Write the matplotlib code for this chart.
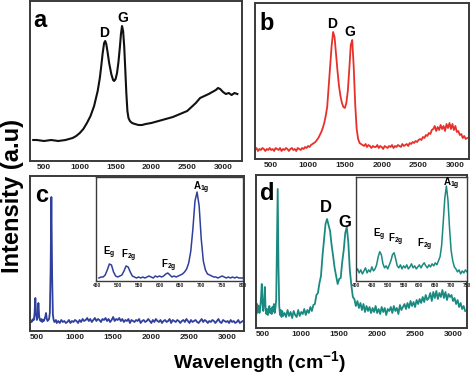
import numpy as np
import matplotlib
matplotlib.use("Agg")
import matplotlib.pyplot as plt
from matplotlib import font_manager

plt.rcParams['font.family'] = ['Liberation Sans', 'DejaVu Sans']
plt.rcParams['font.weight'] = 'bold'
plt.rcParams['mathtext.fontset'] = 'custom'
plt.rcParams['mathtext.rm'] = 'Liberation Sans:bold'
plt.rcParams['mathtext.bf'] = 'Liberation Sans:bold'
plt.rcParams['mathtext.default'] = 'bf'

# ---------------- data ----------------
xticks_main = [500, 1000, 1500, 2000, 2500, 3000]

# panel a (black)
a_x = [350, 400, 500, 600, 700, 800, 900, 950, 1000, 1050, 1100, 1150, 1200, 1250, 1280, 1300,
       1320, 1340, 1355, 1370, 1390, 1410, 1440, 1465, 1480, 1500, 1520, 1540, 1560, 1575, 1590,
       1605, 1620, 1635, 1650, 1665, 1680, 1700, 1730, 1770, 1820, 1870, 1920, 2000, 2100, 2200,
       2300, 2400, 2500, 2560, 2620, 2680, 2740, 2800, 2850, 2900, 2930, 2960, 3000, 3040, 3080,
       3120, 3160, 3200]
a_y = [21, 21, 20, 21, 20, 21, 23, 25, 28, 32, 38, 45, 55, 70, 83, 95,
       108, 118, 120, 117, 108, 98, 87, 81, 80, 82, 88, 99, 114, 127, 135,
       130, 115, 92, 68, 50, 43, 40, 38, 37, 36, 36, 37, 38, 40, 42,
       44, 47, 50, 54, 58, 63, 65, 67, 69, 71, 73, 72, 69, 67, 68,
       66, 68, 67]

# panel b (red), grid start 280, step 20
b_y = [9, 11, 8, 10, 9, 11, 10, 8, 10, 9,
       11, 9, 10, 8, 11, 10, 9, 11, 8, 10,
       9, 11, 10, 8, 10, 11, 9, 10, 8, 11,
       10, 9, 11, 10, 12, 11, 13, 12, 14, 15,
       16, 17, 19, 21, 24, 27, 31, 36, 43, 52,
       72, 92, 113, 127, 122, 105, 88, 73, 63, 56,
       52, 51, 56, 68, 90, 114, 119, 92, 55, 30,
       20, 16, 15, 14, 13, 15, 12, 14, 13, 11,
       13, 12, 12, 14, 11, 13, 12, 10, 13, 12,
       11, 13, 12, 14, 11, 13, 12, 14, 13, 12,
       15, 13, 14, 15, 13, 16, 15, 17, 16, 18,
       17, 19, 20, 19, 22, 21, 24, 23, 26, 25,
       29, 30, 33, 28, 32, 29, 34, 30, 33, 28,
       35, 31, 36, 30, 35, 29, 33, 27, 28, 24,
       25, 21, 23, 20, 21]

# panel c (blue) low-wavenumber part, start 400 step 10
c_low_y = [10, 8, 11, 9, 10, 12, 11, 18, 33, 16, 11, 14, 28, 15, 11, 10, 12, 9, 11, 10,
           12, 14, 18, 12, 10, 11, 12, 18, 60, 134, 55, 16, 11, 9, 10, 11, 8]
# panel c high part, start 780 step 20
c_high_y = [10, 8, 11, 9, 10, 8, 9, 11, 8, 10,
            9, 11, 10, 8, 11, 9, 12, 10, 11, 13,
            10, 12, 9, 11, 13, 10, 12, 11, 9, 12,
            11, 13, 10, 12, 9, 11, 14, 10, 12, 11,
            13, 10, 12, 9, 11, 10, 12, 8, 11, 10,
            9, 11, 10, 12, 8, 10, 11, 9, 10, 12,
            10, 8, 11, 9, 12, 10, 9, 11, 8, 10,
            11, 9, 10, 12, 8, 11, 10, 9, 11, 10,
            8, 10, 11, 9, 12, 10, 8, 11, 9, 10,
            11, 9, 8, 10, 12, 9, 11, 10, 8, 10,
            9, 11, 10, 8, 10, 12, 9, 8, 11, 10,
            9, 10, 8, 11, 9, 10, 8, 9, 11, 8,
            9, 10]

# inset c, start 455 step 5
ic_y = [3, 4, 4, 6, 11, 17, 16, 9, 5, 4, 5, 6, 10, 15, 14, 9, 5, 4, 3, 4,
        3, 4, 3, 4, 5, 4, 3, 5, 4, 5, 4, 5, 7, 8, 6, 4, 5, 4, 5, 6,
        7, 9, 12, 18, 30, 52, 80, 89, 75, 42, 20, 11, 7, 6, 5, 4, 4, 3, 4, 5,
        4, 3, 4, 3, 4, 3, 4, 3, 3, 3]

# panel d (teal) low part, start 400 step 10
d_low_y = [20, 14, 24, 16, 22, 15, 20, 30, 44, 24, 17, 26, 41, 20, 14, 19, 13, 18, 22, 15,
           19, 14, 21, 17, 24, 15, 20, 28, 80, 139, 62, 22, 13, 18, 11, 17, 12]
# panel d high part, start 780 step 20
d_high_y = [15, 11, 18, 12, 16, 10, 17, 13, 11, 18,
            12, 16, 14, 19, 13, 18, 15, 21, 17, 23,
            24, 33, 35, 45, 52, 72, 88, 104, 109, 103,
            97, 83, 72, 60, 52, 44, 49, 50, 66, 78,
            95, 101, 86, 58, 43, 31, 29, 22, 27, 20,
            25, 18, 24, 16, 22, 17, 21, 15, 20, 16,
            22, 15, 19, 14, 21, 16, 20, 13, 19, 17,
            21, 15, 22, 17, 20, 14, 23, 18, 21, 24,
            19, 25, 20, 27, 22, 26, 21, 28, 24, 29,
            25, 31, 26, 33, 28, 30, 35, 27, 36, 30,
            37, 29, 35, 31, 38, 30, 36, 28, 34, 31,
            33, 27, 30, 24, 28, 21, 25, 19, 22, 17]

# inset d, start 400 step 5
id_y = [9, 12, 8, 11, 7, 10, 13, 8, 11, 9, 14, 10, 12, 16, 24, 29, 26, 17, 13, 15,
        12, 16, 20, 26, 28, 22, 15, 13, 16, 12, 15, 13, 16, 12, 14, 17, 13, 15, 12, 14,
        16, 13, 16, 18, 15, 13, 16, 14, 17, 15, 18, 16, 20, 24, 35, 58, 82, 94, 80, 52,
        30, 20, 14, 12, 9, 11, 7, 10, 8, 11, 9]

inset_c_ticks = [450, 500, 550, 600, 650, 700, 750, 800]
inset_d_ticks = [400, 450, 500, 550, 600, 650, 700, 750]

# ---------------- figure ----------------
W, H = 474, 375
fig = plt.figure(figsize=(W / 100, H / 100), dpi=100)

def box(l, t, r, b):
    return [l / W, (H - b) / H, (r - l) / W, (b - t) / H]

frame_col = '#3a3a3a'

def style(ax, ticks, fs, lw=1.4):
    ax.set_xticks(ticks)
    ax.set_xticklabels([str(t) for t in ticks], fontsize=fs, fontweight='bold')
    ax.set_yticks([])
    ax.tick_params(axis='x', length=0, pad=2.5, colors='#222222')
    for s in ax.spines.values():
        s.set_color(frame_col)
        s.set_linewidth(lw)

c_black = '#111111'
c_red = '#e8302a'
c_blue = '#2f3f9c'
c_teal = '#1a8a80'

# a
axa = fig.add_axes(box(30, 1, 242, 161))
axa.plot(a_x, a_y, color=c_black, lw=1.5)
axa.set_xlim(305, 3265)
axa.set_ylim(0, 160)
style(axa, xticks_main, 6)
axa.text(0.014, 0.837, 'a', transform=axa.transAxes, fontsize=17, fontweight='bold')
axa.text(0.351, 0.775, 'D', transform=axa.transAxes, fontsize=10, fontweight='bold', ha='center')
axa.text(0.436, 0.869, 'G', transform=axa.transAxes, fontsize=10, fontweight='bold', ha='center')

# b
axb = fig.add_axes(box(255, 3, 469, 159))
bx = np.arange(len(b_y)) * 20 + 280
axb.plot(bx, b_y, color=c_red, lw=1.3)
axb.set_xlim(280, 3185)
axb.set_ylim(0, 156)
style(axb, xticks_main, 6)
axb.text(0.023, 0.827, 'b', transform=axb.transAxes, fontsize=17, fontweight='bold')
axb.text(0.36, 0.84, 'D', transform=axb.transAxes, fontsize=10, fontweight='bold', ha='center')
axb.text(0.442, 0.788, 'G', transform=axb.transAxes, fontsize=10, fontweight='bold', ha='center')

# c
axc = fig.add_axes(box(30, 176, 244, 331))
cx = list(np.arange(len(c_low_y)) * 10 + 400) + list(np.arange(len(c_high_y)) * 20 + 780)
axc.plot(cx, c_low_y + c_high_y, color=c_blue, lw=1.3)
axc.set_xlim(410, 3215)
axc.set_ylim(0, 155)
style(axc, xticks_main, 6)
axc.text(0.023, 0.832, 'c', transform=axc.transAxes, fontsize=17, fontweight='bold')

axic = fig.add_axes(box(96, 177, 243, 281))
icx = np.arange(len(ic_y)) * 5 + 455
axic.plot(icx, ic_y, color=c_blue, lw=1.1)
axic.set_xlim(448, 800)
axic.set_ylim(0, 104)
style(axic, inset_c_ticks, 3.5, lw=1.0)
axic.tick_params(axis='x', pad=1.5)
axic.text(465, 26, r'E$_{g}$', fontsize=7, fontweight='bold')
axic.text(509, 23, r'F$_{2g}$', fontsize=7, fontweight='bold')
axic.text(604, 13, r'F$_{2g}$', fontsize=7, fontweight='bold')
axic.text(680, 91, r'A$_{1g}$', fontsize=7, fontweight='bold')

# d
axd = fig.add_axes(box(256, 175, 467, 328))
dx = list(np.arange(len(d_low_y)) * 10 + 400) + list(np.arange(len(d_high_y)) * 20 + 780)
axd.plot(dx, d_low_y + d_high_y, color=c_teal, lw=1.3)
axd.set_xlim(404, 3184)
axd.set_ylim(0, 153)
style(axd, xticks_main, 6)
axd.text(0.019, 0.837, 'd', transform=axd.transAxes, fontsize=17, fontweight='bold')
axd.text(0.329, 0.758, 'D', transform=axd.transAxes, fontsize=12, fontweight='bold', ha='center')
axd.text(0.421, 0.66, 'G', transform=axd.transAxes, fontsize=12, fontweight='bold', ha='center')

axid = fig.add_axes(box(356, 177, 467, 281))
idx = np.arange(len(id_y)) * 5 + 400
axid.plot(idx, id_y, color=c_teal, lw=1.1)
axid.set_xlim(400, 750)
axid.set_ylim(0, 103)
style(axid, inset_d_ticks, 3.5, lw=1.0)
axid.tick_params(axis='x', pad=1.5)
axid.text(453, 43, r'E$_{g}$', fontsize=7, fontweight='bold')
axid.text(502, 38, r'F$_{2g}$', fontsize=7, fontweight='bold')
axid.text(593, 33, r'F$_{2g}$', fontsize=7, fontweight='bold')
axid.text(673, 94, r'A$_{1g}$', fontsize=7, fontweight='bold')

# global labels
installed = {f.name for f in font_manager.fontManager.ttflist}
if 'Liberation Sans Narrow' in installed:
    ylab_family, ylab_size = ['Liberation Sans Narrow', 'DejaVu Sans'], 19
else:
    ylab_family, ylab_size = ['Liberation Sans', 'DejaVu Sans'], 17
fig.text(13 / W, 1 - 196 / H, 'Intensity (a.u)', rotation=90, fontsize=ylab_size,
         family=ylab_family, fontweight='bold', ha='center', va='center')
fig.text(260 / W, 1 - 362 / H, r'Wavelength (cm$^{-1}$)', fontsize=14,
         fontweight='bold', ha='center', va='center')

fig.savefig('out.png', dpi=100)
